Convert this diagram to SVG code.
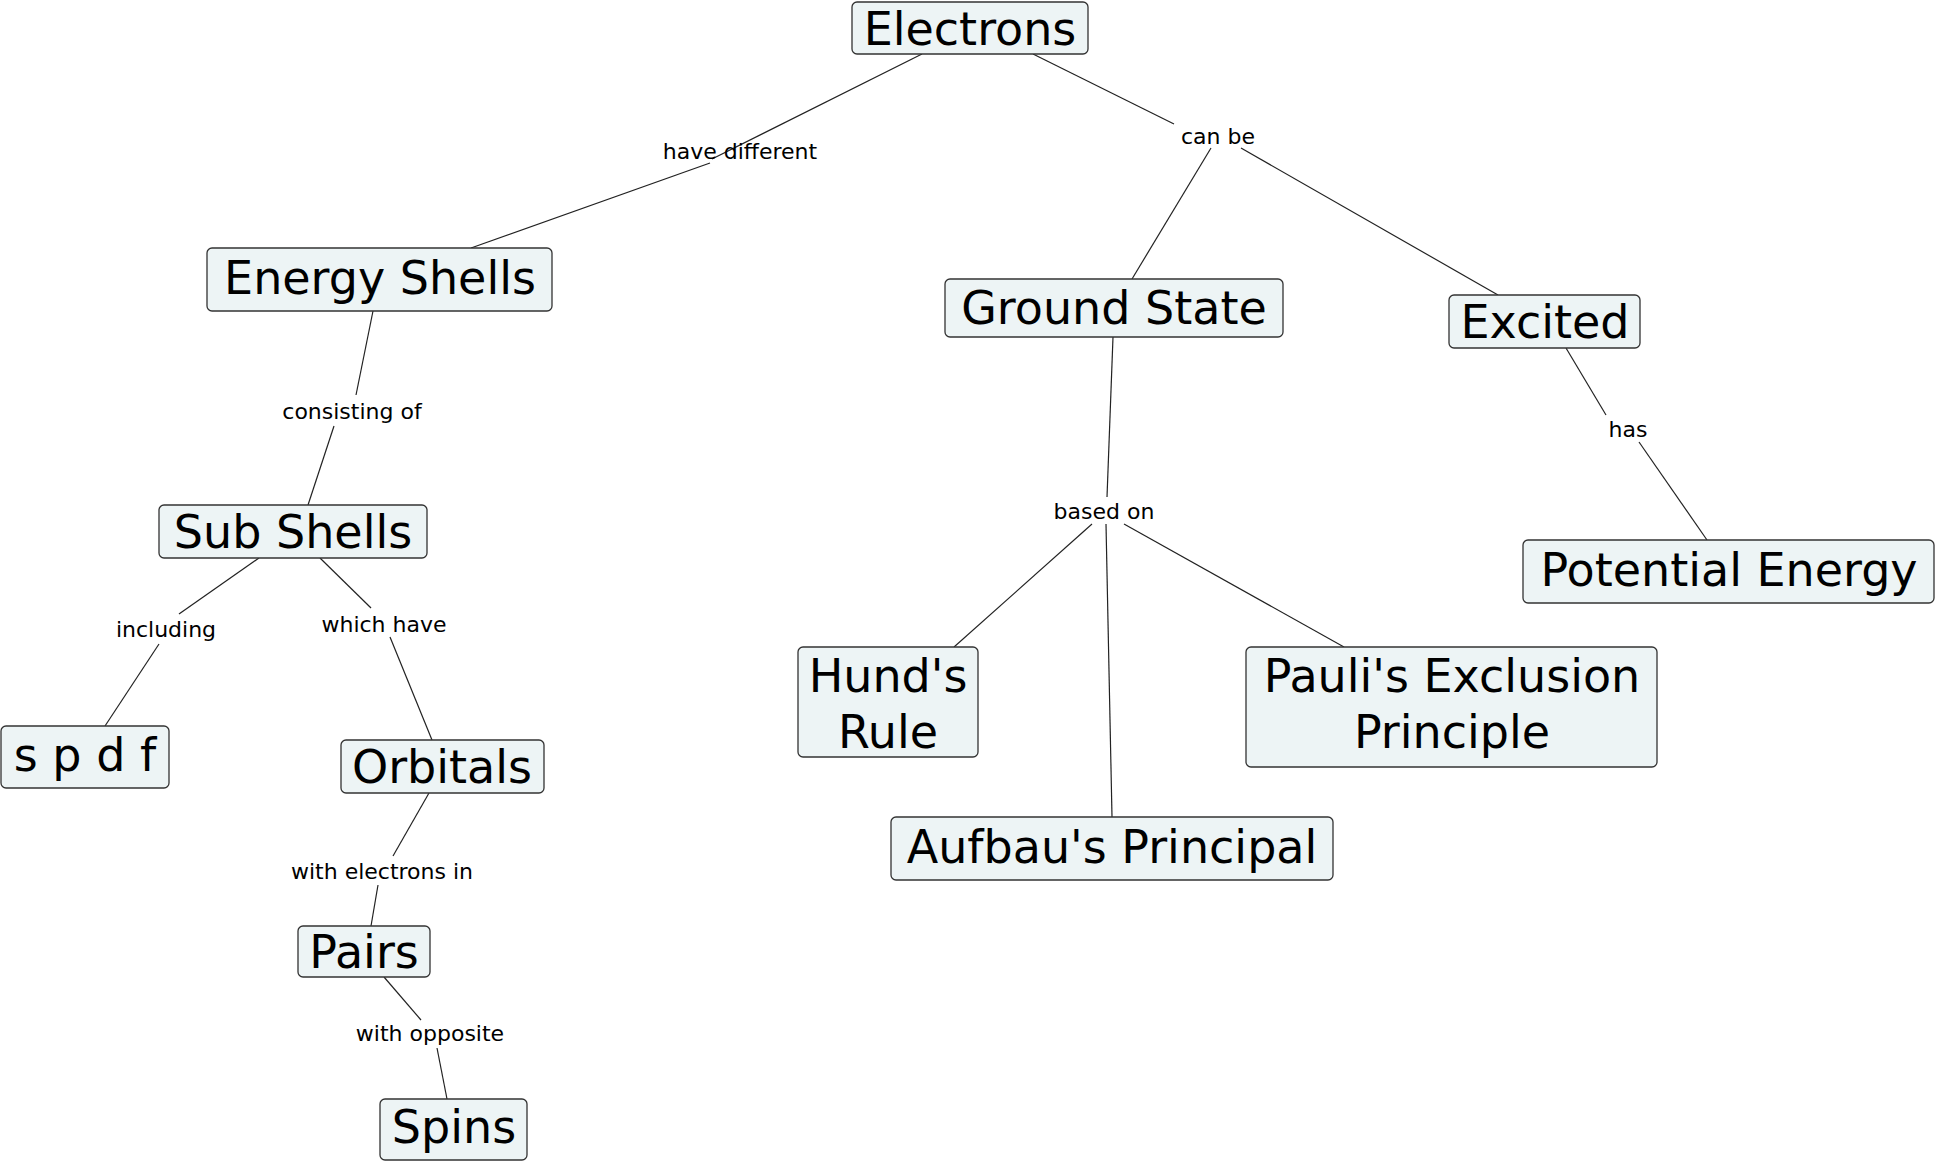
<svg xmlns="http://www.w3.org/2000/svg" width="1937" height="1163" viewBox="0 0 1937 1163">
<style>
.n rect{fill:#edf4f5;stroke:#333;stroke-width:1.3}
.n text{font-family:"DejaVu Sans",sans-serif;font-size:46px;fill:#000;text-anchor:middle}
.l{font-family:"DejaVu Sans",sans-serif;font-size:22px;fill:#000;text-anchor:middle}
#c line{stroke:#222;stroke-width:1.2}
</style>
<rect width="1937" height="1163" fill="#fff"/>
<g id="c">
<line x1="922" y1="54" x2="712" y2="159"/><line x1="710" y1="163" x2="471" y2="248"/>
<line x1="1033" y1="54" x2="1174" y2="124"/><line x1="1211" y1="148" x2="1132" y2="279"/><line x1="1241" y1="148" x2="1498" y2="295"/>
<line x1="373" y1="311" x2="356" y2="395"/><line x1="334" y1="426" x2="308" y2="505"/>
<line x1="1566" y1="348" x2="1606" y2="415"/><line x1="1639" y1="442" x2="1707" y2="540"/>
<line x1="1113" y1="337" x2="1107" y2="497"/><line x1="1092" y1="524" x2="954" y2="647"/><line x1="1106" y1="524" x2="1112" y2="817"/><line x1="1124" y1="524" x2="1344" y2="647"/>
<line x1="259" y1="558" x2="179" y2="614"/><line x1="159" y1="644" x2="105" y2="726"/>
<line x1="320" y1="558" x2="371" y2="608"/><line x1="390" y1="637" x2="432" y2="740"/>
<line x1="429" y1="793" x2="393" y2="856"/><line x1="378" y1="885" x2="371" y2="926"/>
<line x1="384" y1="977" x2="421" y2="1020"/><line x1="437" y1="1048" x2="447" y2="1099"/>
</g>
<g id="labels">
<text class="l" x="740" y="159">have different</text>
<text class="l" x="1218" y="144">can be</text>
<text class="l" x="352" y="419">consisting of</text>
<text class="l" x="1628" y="437">has</text>
<text class="l" x="1104" y="519">based on</text>
<text class="l" x="166" y="637">including</text>
<text class="l" x="384" y="632">which have</text>
<text class="l" x="382" y="879">with electrons in</text>
<text class="l" x="430" y="1041">with opposite</text>
</g>
<g id="electrons" class="n"><rect x="852" y="2" width="236" height="52" rx="5"/><text x="970" y="45">Electrons</text></g>
<g id="energy-shells" class="n"><rect x="207" y="248" width="345" height="63" rx="5"/><text x="380" y="294">Energy Shells</text></g>
<g id="ground-state" class="n"><rect x="945" y="279" width="338" height="58" rx="5"/><text x="1114" y="324">Ground State</text></g>
<g id="excited" class="n"><rect x="1449" y="295" width="191" height="53" rx="5"/><text x="1545" y="338">Excited</text></g>
<g id="sub-shells" class="n"><rect x="159" y="505" width="268" height="53" rx="5"/><text x="293" y="548">Sub Shells</text></g>
<g id="potential-energy" class="n"><rect x="1523" y="540" width="411" height="63" rx="5"/><text x="1729" y="586">Potential Energy</text></g>
<g id="hunds-rule" class="n"><rect x="798" y="647" width="180" height="110" rx="5"/><text x="888" y="692">Hund's</text><text x="888" y="748">Rule</text></g>
<g id="paulis" class="n"><rect x="1246" y="647" width="411" height="120" rx="5"/><text x="1452" y="692">Pauli's Exclusion</text><text x="1452" y="748">Principle</text></g>
<g id="spdf" class="n"><rect x="1" y="726" width="168" height="62" rx="5"/><text x="85" y="771">s p d f</text></g>
<g id="orbitals" class="n"><rect x="341" y="740" width="203" height="53" rx="5"/><text x="442" y="783">Orbitals</text></g>
<g id="aufbau" class="n"><rect x="891" y="817" width="442" height="63" rx="5"/><text x="1112" y="863">Aufbau's Principal</text></g>
<g id="pairs" class="n"><rect x="298" y="926" width="132" height="51" rx="5"/><text x="364" y="968">Pairs</text></g>
<g id="spins" class="n"><rect x="380" y="1099" width="147" height="61" rx="5"/><text x="454" y="1143">Spins</text></g>
</svg>
